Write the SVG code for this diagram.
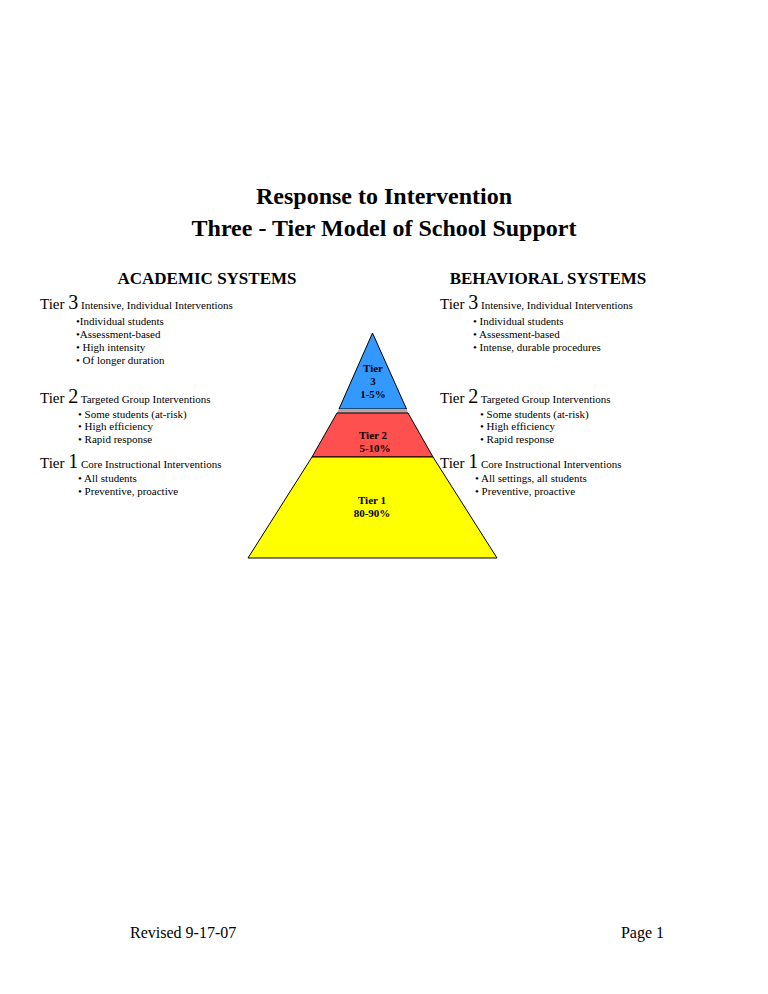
<svg xmlns="http://www.w3.org/2000/svg" width="768" height="994" viewBox="0 0 768 994">
<style>
text{font-family:"Liberation Serif","Times New Roman",serif;fill:#000}
.t{font-size:24px;font-weight:bold;text-anchor:middle}
.h{font-size:17px;font-weight:bold;text-anchor:middle}
.tier{font-size:15px}
.n{font-size:20px}
.s{font-size:11px}
.p{font-size:11px;font-weight:bold;text-anchor:middle}
.f{font-size:16px}
</style>
<rect width="768" height="994" fill="#fff"/>
<text class="t" x="384" y="204">Response to Intervention</text>
<text class="t" x="384" y="236">Three - Tier Model of School Support</text>
<text class="h" x="207" y="284">ACADEMIC SYSTEMS</text>
<text class="h" x="548" y="284">BEHAVIORAL SYSTEMS</text>

<g id="academic">
<text x="40" y="309"><tspan class="tier">Tier </tspan><tspan class="n">3</tspan><tspan class="s"> Intensive, Individual Interventions</tspan></text>
<text class="s" x="76" y="325">•Individual students</text>
<text class="s" x="76" y="338">•Assessment-based</text>
<text class="s" x="76" y="351">• High intensity</text>
<text class="s" x="76" y="364">• Of longer duration</text>
<text x="40" y="403"><tspan class="tier">Tier </tspan><tspan class="n">2</tspan><tspan class="s"> Targeted Group Interventions</tspan></text>
<text class="s" x="78" y="418">• Some students (at-risk)</text>
<text class="s" x="78" y="430">• High efficiency</text>
<text class="s" x="78" y="443">• Rapid response</text>
<text x="40" y="468"><tspan class="tier">Tier </tspan><tspan class="n">1</tspan><tspan class="s"> Core Instructional Interventions</tspan></text>
<text class="s" x="78" y="482">• All students</text>
<text class="s" x="78" y="495">• Preventive, proactive</text>
</g>

<g id="behavioral">
<text x="440" y="309"><tspan class="tier">Tier </tspan><tspan class="n">3</tspan><tspan class="s"> Intensive, Individual Interventions</tspan></text>
<text class="s" x="473" y="325">• Individual students</text>
<text class="s" x="473" y="338">• Assessment-based</text>
<text class="s" x="473" y="351">• Intense, durable procedures</text>
<text x="440" y="403"><tspan class="tier">Tier </tspan><tspan class="n">2</tspan><tspan class="s"> Targeted Group Interventions</tspan></text>
<text class="s" x="480" y="418">• Some students (at-risk)</text>
<text class="s" x="480" y="430">• High efficiency</text>
<text class="s" x="480" y="443">• Rapid response</text>
<text x="440" y="468"><tspan class="tier">Tier </tspan><tspan class="n">1</tspan><tspan class="s"> Core Instructional Interventions</tspan></text>
<text class="s" x="475" y="482">• All settings, all students</text>
<text class="s" x="475" y="495">• Preventive, proactive</text>
</g>

<g id="pyramid" stroke="#000" stroke-width="1">
<polygon points="372.5,333 339,409 406.5,409" fill="#3399ff"/>
<polygon points="339,409 406.5,409 408,413 337,413" fill="#c0a0a0" stroke="none"/>
<polygon points="337,413 408,413 433,457 312,457" fill="#ff5050"/>
<polygon points="312,457 433,457 497,558 248,558" fill="#ffff00"/>
</g>
<g id="pyramid-labels">
<text class="p" x="373" y="372">Tier</text>
<text class="p" x="373" y="385">3</text>
<text class="p" x="373" y="398">1-5%</text>
<text class="p" x="373" y="439">Tier 2</text>
<text class="p" x="375" y="452">5-10%</text>
<text class="p" x="372" y="504">Tier 1</text>
<text class="p" x="372" y="517">80-90%</text>
</g>
<text class="f" x="130" y="938">Revised 9-17-07</text>
<text class="f" x="664" y="938" text-anchor="end">Page 1</text>
</svg>
